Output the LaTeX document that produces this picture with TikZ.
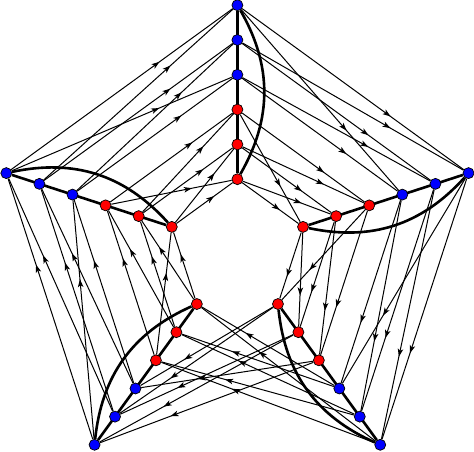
\documentclass[tikz,border=0pt]{standalone}
\usetikzlibrary{arrows.meta,decorations.markings,backgrounds}
\tikzstyle{every picture}+=[font=\sffamily]

\begin{document}
\begin{tikzpicture}[x=1pt,y=1pt,
    vtx/.style={circle,draw=black,line width=0.7pt,inner sep=0pt,minimum size=11pt},
    spine/.style={line width=2.6pt},
    flow/.style={line width=1pt,postaction={decorate},
      decoration={markings,mark=at position 0.67 with {\arrow{Stealth[length=8pt,width=5.5pt,inset=2pt]}}}}]
    \useasboundingbox (0,0) rectangle (474,451);
    \coordinate (c) at (237.4,202.8);
    % five spokes, three blue and three red vertices on each
    \foreach \k in {0,...,4} {
      \foreach \i in {0,...,5} {
        \ifnum\i<3 \def\col{blue}\else\def\col{red}\fi
        \node[vtx,fill=\col] (v\k\i) at ([shift={(90-72*\k:{243-34.8*\i})}]c) {};
      }
    }
    \begin{pgfonlayer}{background}
      \foreach \k in {0,...,4} {
        \draw[spine] (v\k0) -- (v\k5);
        \draw[spine] (v\k0) to[bend left=30] (v\k5);
        \pgfmathtruncatemacro\n{mod(\k+1,5)}
        % between spokes 2 and 3 blue and red change places
        \ifnum\k=2
          \def\pairs{0/3,0/5,1/4,1/3,2/5,2/4,3/0,3/2,4/1,4/0,5/2,5/1}
        \else
          \def\pairs{0/0,0/2,1/1,1/0,2/2,2/1,3/3,3/5,4/4,4/3,5/5,5/4}
        \fi
        \foreach \i/\j in \pairs
          \draw[flow] (v\k\i) -- (v\n\j);
      }
    \end{pgfonlayer}
\end{tikzpicture}
\end{document}
